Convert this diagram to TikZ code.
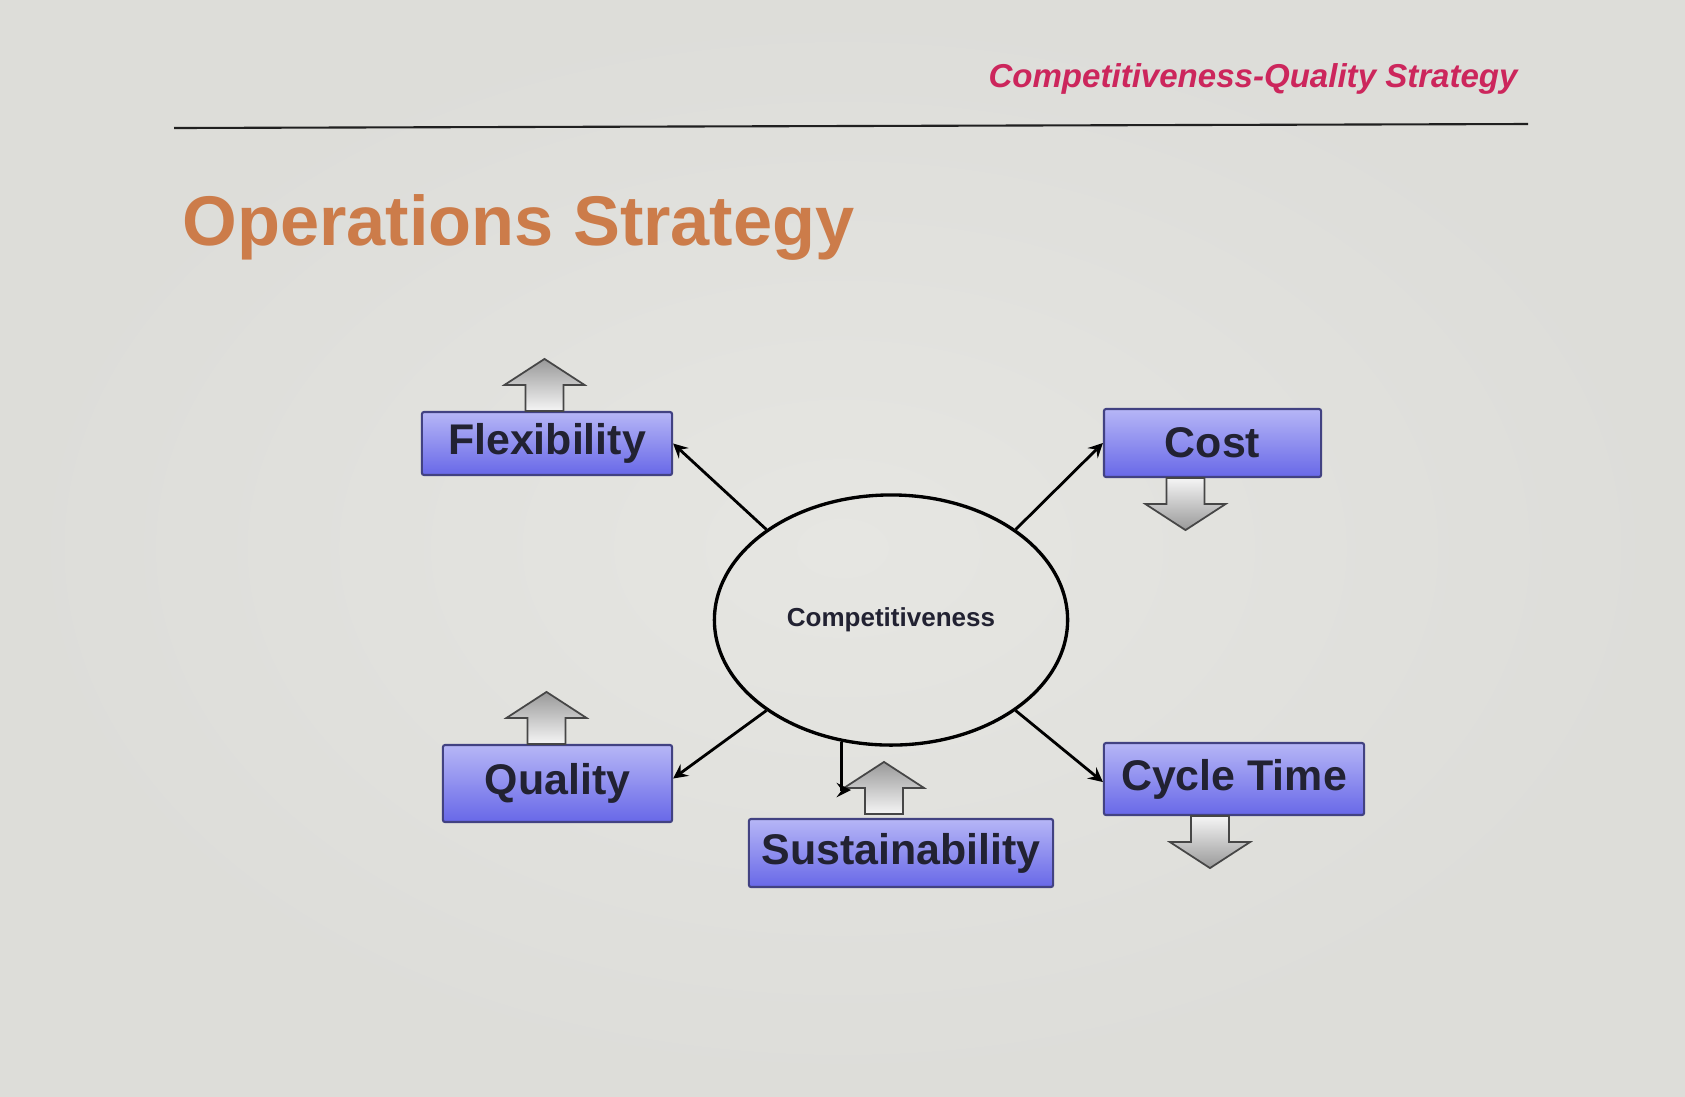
\documentclass[tikz,border=0pt]{standalone}
\usepackage{fontspec}
\setmainfont{Liberation Sans}
\usepackage{graphicx}
\usepackage{tikz}
\usetikzlibrary{arrows, shapes.geometric}

\definecolor{bgcol}{RGB}{230,230,226}
\definecolor{headpink}{RGB}{204,38,92}
\definecolor{titleorange}{RGB}{204,124,74}
\definecolor{boxtop}{RGB}{182,182,246}
\definecolor{boxbot}{RGB}{104,104,232}
\definecolor{boxline}{RGB}{66,66,130}
\definecolor{boxtext}{RGB}{34,34,50}

\begin{document}
\begin{tikzpicture}[x=0.01cm, y=-0.01cm, >=stealth,
        box/.style={draw=boxline, line width=0.6pt, top color=boxtop, bottom color=boxbot,
            text=boxtext, font=\bfseries\fontsize{12.2}{14}\selectfont, inner sep=0pt, rounded corners=0.6pt},
        blk/.style={draw=gray!55!black, line width=0.5pt},
        uparr/.pic={\draw[blk, top color=gray!80, bottom color=gray!8]
            (-19,0) -- (-19,-26) -- (-40,-26) -- (0,-52) -- (40,-26) -- (19,-26) -- (19,0) -- cycle;},
        downarr/.pic={\draw[blk, top color=gray!8, bottom color=gray!80]
            (-19,0) -- (-19,26) -- (-40,26) -- (0,52) -- (40,26) -- (19,26) -- (19,0) -- cycle;}]

        % background
        \useasboundingbox (0,0) rectangle (1685,1096);
        \shade[inner color=bgcol, outer color=bgcol!96!black] (0,0) rectangle (1685,1096);

        % heading
        \node[anchor=base east, text=headpink, font=\bfseries\itshape\fontsize{9.4}{11}\selectfont] (head) at (1530,87) {Competitiveness-Quality Strategy};
        \coordinate (hl) at (174,128);
        \coordinate (hr) at (1528,124);
        \draw[gray!25!black, line width=0.6pt] (hl) -- (hr);
        \node[anchor=base west, text=titleorange, font=\bfseries\fontsize{20}{24}\selectfont] (title) at (170,245) {Operations Strategy};

        % centre
        \node[ellipse, draw, line width=0.95pt, minimum width=35.3mm, minimum height=25mm,
            text=boxtext, font=\bfseries\fontsize{7.4}{9}\selectfont] (comp) at (891,620) {Competitiveness};

        % boxes
        \node[box, minimum width=25mm, minimum height=6.3mm] (flex) at (547,443.5) {Flexibility};
        \node[box, minimum width=21.7mm, minimum height=6.8mm] (cost) at (1212.5,443) {Cost};
        \node[box, minimum width=22.9mm, minimum height=7.7mm] (qual) at (557.5,783.5) {Quality};
        \node[box, minimum width=30.4mm, minimum height=6.8mm] (sust) at (901,853) {Sustainability};
        \node[box, minimum width=26mm, minimum height=7.2mm] (cyc) at (1234,779) {Cycle Time};

        % up and down arrows
        \pic at ([xshift=-0.25mm]flex.north) {uparr};
        \pic at ([xshift=-1.1mm]qual.north) {uparr};
        \pic at ([xshift=-1.7mm, yshift=0.4mm]sust.north) {uparr};
        \pic at ([xshift=-2.7mm]cost.south) {downarr};
        \pic at ([xshift=-2.4mm]cyc.south) {downarr};

        % connectors
        \coordinate (stip) at (851,790);
        \draw[->, thick] (comp.144) to (flex.east);
        \draw[->, thick] (comp.36) to (cost.west);
        \draw[->, thick] (comp.216) to ([yshift=0.5mm]qual.east);
        \draw[->, thick] (comp.324) to ([yshift=-0.3mm]cyc.west);
        \draw[->, thick] (comp.248) |- (stip);

    \end{tikzpicture}
\end{document}
